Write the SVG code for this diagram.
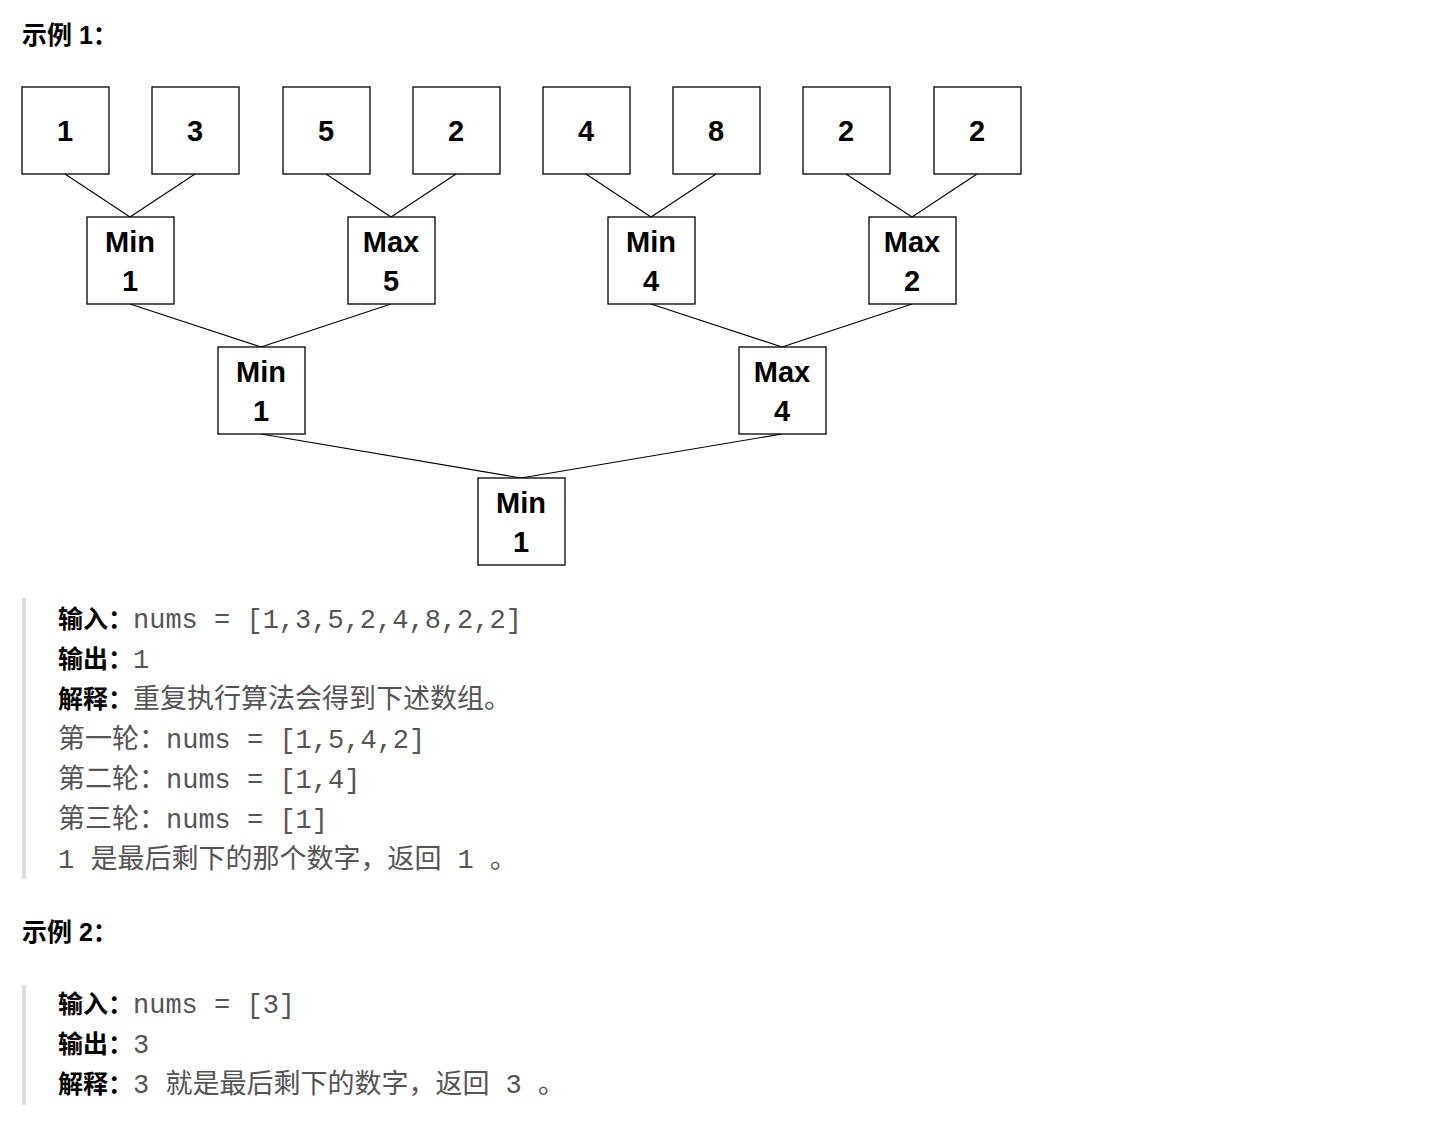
<svg xmlns="http://www.w3.org/2000/svg" width="1452" height="1142" viewBox="0 0 1452 1142">
<style>
.b{fill:#fff;stroke:#000;stroke-width:1.3}
.n{font-family:"Liberation Sans",Arial,sans-serif;font-weight:bold;font-size:29px;fill:#000;text-anchor:middle}
.c line{stroke:#000;stroke-width:1.1}
.h{font-family:"Liberation Sans","Noto Sans CJK SC",sans-serif;font-weight:bold;font-size:25px;fill:#000}
.t{font-family:"Liberation Mono","Noto Sans CJK SC",monospace;font-size:27px;fill:#555}
.k{font-family:"Noto Sans CJK SC",sans-serif;font-weight:bold;fill:#000;font-size:25px}
.bar{fill:#ddd}
</style>
<rect width="1452" height="1142" fill="#fff"/>
<text class="h" x="22" y="44">示例 1：</text>
<g class="c">
<line x1="65" y1="174" x2="130" y2="217"/><line x1="195" y1="174" x2="130" y2="217"/>
<line x1="326" y1="174" x2="391" y2="217"/><line x1="456" y1="174" x2="391" y2="217"/>
<line x1="586" y1="174" x2="651" y2="217"/><line x1="716" y1="174" x2="651" y2="217"/>
<line x1="846" y1="174" x2="912" y2="217"/><line x1="977" y1="174" x2="912" y2="217"/>
<line x1="130" y1="304" x2="261" y2="347"/><line x1="391" y1="304" x2="261" y2="347"/>
<line x1="651" y1="304" x2="782" y2="347"/><line x1="912" y1="304" x2="782" y2="347"/>
<line x1="261" y1="434" x2="521" y2="478"/><line x1="782" y1="434" x2="521" y2="478"/>
</g>
<g id="a1"><rect class="b" x="22" y="87" width="87" height="87"/><text class="n" x="65" y="141">1</text></g>
<g id="a2"><rect class="b" x="152" y="87" width="87" height="87"/><text class="n" x="195" y="141">3</text></g>
<g id="a3"><rect class="b" x="283" y="87" width="87" height="87"/><text class="n" x="326" y="141">5</text></g>
<g id="a4"><rect class="b" x="413" y="87" width="87" height="87"/><text class="n" x="456" y="141">2</text></g>
<g id="a5"><rect class="b" x="543" y="87" width="87" height="87"/><text class="n" x="586" y="141">4</text></g>
<g id="a6"><rect class="b" x="673" y="87" width="87" height="87"/><text class="n" x="716" y="141">8</text></g>
<g id="a7"><rect class="b" x="803" y="87" width="87" height="87"/><text class="n" x="846" y="141">2</text></g>
<g id="a8"><rect class="b" x="934" y="87" width="87" height="87"/><text class="n" x="977" y="141">2</text></g>
<g id="b1"><rect class="b" x="87" y="217" width="87" height="87"/><text class="n" x="130" y="252">Min</text><text class="n" x="130" y="291">1</text></g>
<g id="b2"><rect class="b" x="348" y="217" width="87" height="87"/><text class="n" x="391" y="252">Max</text><text class="n" x="391" y="291">5</text></g>
<g id="b3"><rect class="b" x="608" y="217" width="87" height="87"/><text class="n" x="651" y="252">Min</text><text class="n" x="651" y="291">4</text></g>
<g id="b4"><rect class="b" x="869" y="217" width="87" height="87"/><text class="n" x="912" y="252">Max</text><text class="n" x="912" y="291">2</text></g>
<g id="c1"><rect class="b" x="218" y="347" width="87" height="87"/><text class="n" x="261" y="382">Min</text><text class="n" x="261" y="421">1</text></g>
<g id="c2"><rect class="b" x="739" y="347" width="87" height="87"/><text class="n" x="782" y="382">Max</text><text class="n" x="782" y="421">4</text></g>
<g id="d1"><rect class="b" x="478" y="478" width="87" height="87"/><text class="n" x="521" y="513">Min</text><text class="n" x="521" y="552">1</text></g>
<rect class="bar" x="22" y="598" width="4" height="281"/>
<text class="t" x="58" y="628"><tspan class="k">输入：</tspan>nums = [1,3,5,2,4,8,2,2]</text>
<text class="t" x="58" y="668"><tspan class="k">输出：</tspan>1</text>
<text class="t" x="58" y="708"><tspan class="k">解释：</tspan>重复执行算法会得到下述数组。</text>
<text class="t" x="58" y="748">第一轮：nums = [1,5,4,2]</text>
<text class="t" x="58" y="788">第二轮：nums = [1,4]</text>
<text class="t" x="58" y="828">第三轮：nums = [1]</text>
<text class="t" x="58" y="868">1 是最后剩下的那个数字，返回 1 。</text>
<text class="h" x="22" y="941">示例 2：</text>
<rect class="bar" x="22" y="985" width="4" height="120"/>
<text class="t" x="58" y="1013"><tspan class="k">输入：</tspan>nums = [3]</text>
<text class="t" x="58" y="1053"><tspan class="k">输出：</tspan>3</text>
<text class="t" x="58" y="1093"><tspan class="k">解释：</tspan>3 就是最后剩下的数字，返回 3 。</text>
</svg>
